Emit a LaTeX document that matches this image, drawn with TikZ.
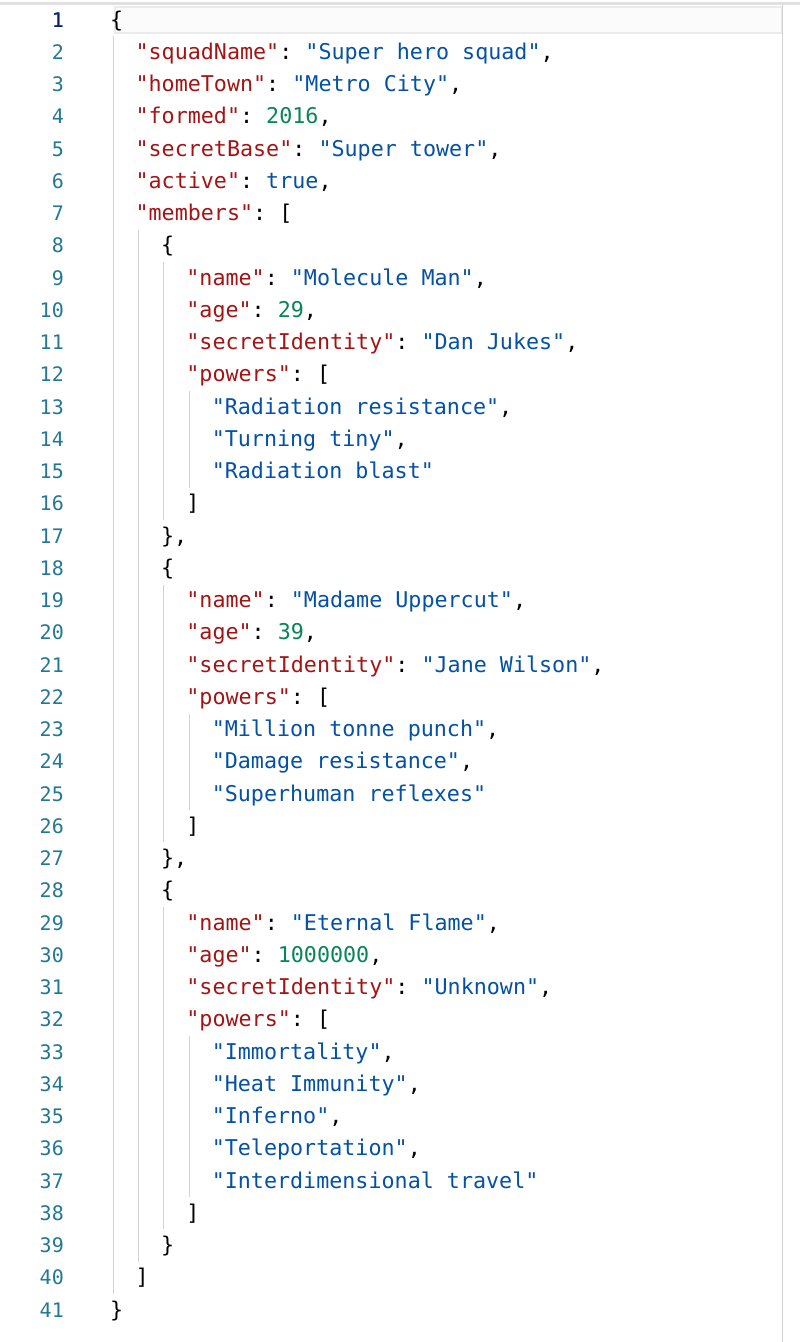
\documentclass[tikz,border=0pt]{standalone}
\usepackage{fontspec}
\setmonofont{DejaVu Sans Mono}
\definecolor{kc}{HTML}{A31515}
\definecolor{sc}{HTML}{0451A5}
\definecolor{nc}{HTML}{098658}
\definecolor{lnc}{HTML}{237893}
\definecolor{lnf}{HTML}{0B216F}
\definecolor{guide}{HTML}{D3D3D3}
\newcommand\Kk[1]{\textcolor{kc}{"#1"}}
\newcommand\Ss[1]{\textcolor{sc}{"#1"}}
\newcommand\Nn[1]{\textcolor{nc}{#1}}
\newcommand\Bb[1]{\textcolor{sc}{#1}}
\newcommand\codeline[3]{%
  \pgfmathsetmacro\yy{-(25+32.25*(#1-1))}%
  \pgfmathsetmacro\xx{110+#2*12.7}%
  \node[num] (n#1) at (64,\yy) {#1};
  \node[code] (c#1) at (\xx,\yy) {#3};}
\newcommand\guide[3]{%
  \pgfmathsetmacro\ya{-(20+32.25*(#2-1))+16}%
  \pgfmathsetmacro\yb{-(20+32.25*(#3-1))-16}%
  \pgfmathsetmacro\gx{113+#1*25.4}%
  \draw[guide,line width=0.8pt] (\gx,\ya) -- (\gx,\yb);}
\begin{document}
\begin{tikzpicture}[x=1pt,y=1pt,
  num/.style={anchor=mid east,inner sep=0pt,font=\ttfamily\fontsize{20}{20}\selectfont,text=lnc},
  code/.style={anchor=mid west,inner sep=0pt,font=\ttfamily\fontsize{21.7}{21.7}\selectfont}]
\useasboundingbox[fill=white] (0,0) rectangle (800,-1342);
\fill[black!12] (0,-2) rectangle (800,-5);
\draw[fill=black!1.5,draw=black!8,line width=1.5pt] (115,-7) rectangle (782,-33);
\draw[black!18,line width=1pt] (782,-5) -- (782,-1342);
\guide{0}{2}{40}
\guide{1}{8}{39}
\guide{2}{9}{16}\guide{2}{19}{26}\guide{2}{29}{38}
\guide{3}{13}{15}\guide{3}{23}{25}\guide{3}{33}{37}
\codeline{1}{0}{\{}
\node[num,text=lnf] at (n1.mid east) {1};
\codeline{2}{2}{\Kk{squadName}: \Ss{Super hero squad},}
\codeline{3}{2}{\Kk{homeTown}: \Ss{Metro City},}
\codeline{4}{2}{\Kk{formed}: \Nn{2016},}
\codeline{5}{2}{\Kk{secretBase}: \Ss{Super tower},}
\codeline{6}{2}{\Kk{active}: \Bb{true},}
\codeline{7}{2}{\Kk{members}: [}
\codeline{8}{4}{\{}
\codeline{9}{6}{\Kk{name}: \Ss{Molecule Man},}
\codeline{10}{6}{\Kk{age}: \Nn{29},}
\codeline{11}{6}{\Kk{secretIdentity}: \Ss{Dan Jukes},}
\codeline{12}{6}{\Kk{powers}: [}
\codeline{13}{8}{\Ss{Radiation resistance},}
\codeline{14}{8}{\Ss{Turning tiny},}
\codeline{15}{8}{\Ss{Radiation blast}}
\codeline{16}{6}{]}
\codeline{17}{4}{\},}
\codeline{18}{4}{\{}
\codeline{19}{6}{\Kk{name}: \Ss{Madame Uppercut},}
\codeline{20}{6}{\Kk{age}: \Nn{39},}
\codeline{21}{6}{\Kk{secretIdentity}: \Ss{Jane Wilson},}
\codeline{22}{6}{\Kk{powers}: [}
\codeline{23}{8}{\Ss{Million tonne punch},}
\codeline{24}{8}{\Ss{Damage resistance},}
\codeline{25}{8}{\Ss{Superhuman reflexes}}
\codeline{26}{6}{]}
\codeline{27}{4}{\},}
\codeline{28}{4}{\{}
\codeline{29}{6}{\Kk{name}: \Ss{Eternal Flame},}
\codeline{30}{6}{\Kk{age}: \Nn{1000000},}
\codeline{31}{6}{\Kk{secretIdentity}: \Ss{Unknown},}
\codeline{32}{6}{\Kk{powers}: [}
\codeline{33}{8}{\Ss{Immortality},}
\codeline{34}{8}{\Ss{Heat Immunity},}
\codeline{35}{8}{\Ss{Inferno},}
\codeline{36}{8}{\Ss{Teleportation},}
\codeline{37}{8}{\Ss{Interdimensional travel}}
\codeline{38}{6}{]}
\codeline{39}{4}{\}}
\codeline{40}{2}{]}
\codeline{41}{0}{\}}
\end{tikzpicture}
\end{document}
